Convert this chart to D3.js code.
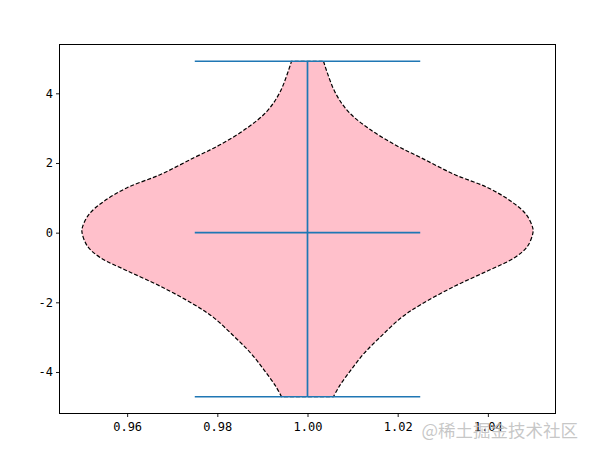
<!DOCTYPE html>
<html lang="en">
<head>
  <meta charset="UTF-8">
  <title>violin</title>
  <script src="https://cdn.jsdelivr.net/npm/d3@7"></script>
  <style>
    body { margin: 0; background: #fff; }
    .tick text { font-family: "DejaVu Sans Mono", monospace; font-size: 12px; fill: #000; }
  </style>
</head>
<body>
<div id="chart"></div>
<script>
  // kde profile: y level and relative density (1 = widest)
  const kdeY =       [4.92, 4.06, 3.49, 3.01, 2.53, 2.15, 1.67, 1.29, 0.90, 0.52, 0.14, 0.00, -0.39, -0.72, -1.10, -1.54, -2.06, -2.44, -2.97, -3.45, -3.93, -4.40, -4.71]
  const kdeDensity = [0.071, 0.12, 0.179, 0.267, 0.386, 0.504, 0.652, 0.80, 0.903, 0.97, 0.999, 1.0, 0.976, 0.918, 0.798, 0.652, 0.504, 0.416, 0.327, 0.253, 0.194, 0.142, 0.115]
  const position = 1.0
  const violinWidth = 0.1
  const statMax = 4.92
  const statMin = -4.71
  const statMedian = 0.0
  const xTicks = [0.96, 0.98, 1.00, 1.02, 1.04]
  const yTicks = [-4, -2, 0, 2, 4]

  const W = 595, H = 455
  const box = {left: 59.5, right: 555.5, top: 44.5, bottom: 413.5}

  const svg = d3.select("#chart").append("svg")
    .attr("width", W).attr("height", H)

  const pad = (statMax - statMin) * 0.05
  const x = d3.scaleLinear()
    .domain([position - violinWidth / 2 - violinWidth * 0.05, position + violinWidth / 2 + violinWidth * 0.05])
    .range([box.left, box.right])
  const y = d3.scaleLinear()
    .domain([statMin - pad, statMax + pad])
    .range([box.bottom, box.top])

  const half = d => d * violinWidth / 2
  const pts = kdeY.map((v, i) => ({y: v, d: kdeDensity[i]}))

  const area = d3.area()
    .curve(d3.curveCatmullRom)
    .y(d => y(d.y))
    .x0(d => x(position - half(d.d)))
    .x1(d => x(position + half(d.d)))

  svg.append("path")
    .datum(pts)
    .attr("d", area)
    .attr("fill", "#ffc0cb")
    .attr("stroke", "#000")
    .attr("stroke-width", 1.2)
    .attr("stroke-dasharray", "4,2")

  // blue extrema / median / bar
  const blue = "#1f77b4"
  const g = svg.append("g").attr("stroke", blue).attr("stroke-width", 1.7)
  ;[statMax, statMin, statMedian].forEach(v => {
    g.append("line")
      .attr("x1", x(position - violinWidth / 4)).attr("x2", x(position + violinWidth / 4))
      .attr("y1", y(v)).attr("y2", y(v))
  })
  g.append("line")
    .attr("x1", x(position)).attr("x2", x(position))
    .attr("y1", y(statMin)).attr("y2", y(statMax))

  // axes
  const xAxis = d3.axisBottom(x).tickValues(xTicks).tickSize(3.5).tickPadding(5)
    .tickFormat(d3.format(".2f"))
  const yAxis = d3.axisLeft(y).tickValues(yTicks).tickSize(3.5).tickPadding(3)
    .tickFormat(d => d < 0 ? "-" + Math.abs(d) : d)

  svg.append("g").attr("transform", `translate(0,${box.bottom})`).call(xAxis)
    .call(s => s.select(".domain").remove())
  svg.append("g").attr("transform", `translate(${box.left},0)`).call(yAxis)
    .call(s => s.select(".domain").remove())
  svg.selectAll(".tick line").attr("stroke", "#000").attr("stroke-width", 0.9)

  svg.append("rect")
    .attr("x", box.left).attr("y", box.top)
    .attr("width", box.right - box.left).attr("height", box.bottom - box.top)
    .attr("fill", "none").attr("stroke", "#000").attr("stroke-width", 1)

  // watermark
  svg.append("text")
    .attr("x", 578).attr("y", 437)
    .attr("text-anchor", "end")
    .style("font-family", "'Noto Sans CJK SC', sans-serif")
    .style("font-size", "17.5px")
    .attr("fill", "#bdbdbd")
    .attr("fill-opacity", 0.85)
    .text("@稀土掘金技术社区")
</script>
</body>
</html>
